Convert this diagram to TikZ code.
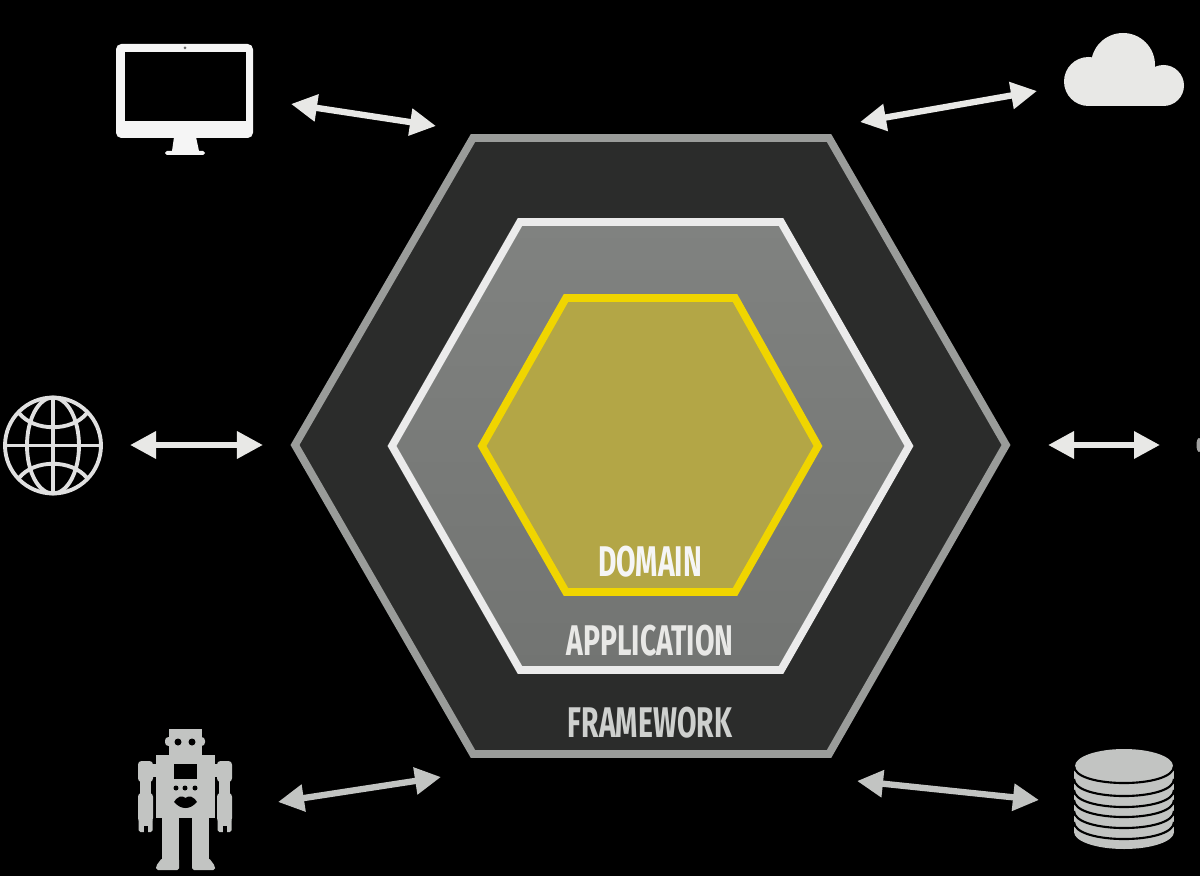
\documentclass[tikz,border=0pt]{standalone}
\usepackage{fontspec}
\setmainfont[FakeStretch=0.66]{Fira Sans}
\usetikzlibrary{arrows.meta}
\definecolor{hexdark}{HTML}{2B2C2B}
\definecolor{hexedge}{HTML}{9A9C9A}
\definecolor{hexmidtop}{HTML}{808280}
\definecolor{hexmidlow}{HTML}{727472}
\definecolor{hexcore}{HTML}{B3A646}
\definecolor{coreedge}{HTML}{F0D500}
\definecolor{lightgrey}{HTML}{E8E8E6}
\definecolor{robotgrey}{HTML}{C2C4C2}
\tikzset{hex/.style = {line width = 2.2pt, miter limit = 10}}
\tikzset{dblarrow/.style = {line width = 1.8pt, {Triangle[length=0.26cm, width=0.26cm]}-{Triangle[length=0.26cm, width=0.26cm]}}}
\tikzset{label/.style = {font = \fontsize{12.2}{14}\selectfont\bfseries, inner sep = 0}}
\tikzset{globeline/.style = {white!88!black, line width = 1.1pt}}
\begin{document}
\begin{tikzpicture}[x=0.01cm, y=-0.01cm]
    \clip (0, 0) rectangle (1200, 876);
    \fill [black] (0, 0) rectangle (1200, 876);

    \draw [hex, draw=hexedge, fill=hexdark] (473, 138) -- (829, 138) -- (1006, 445) -- (829, 754) -- (473, 754) -- (295, 445) -- cycle;
    \draw [hex, draw=white!92!black, top color=hexmidtop, bottom color=hexmidlow] (520, 222) -- (781, 222) -- (909, 446) -- (781, 670) -- (520, 670) -- (392, 446) -- cycle;
    \draw [hex, draw=coreedge, fill=hexcore] (566, 298) -- (735, 298) -- (818, 446) -- (735, 592) -- (566, 592) -- (482, 446) -- cycle;

    \node [label, text=white!96!black] (domain) at (650, 562) {DOMAIN};
    \node [label, text=lightgrey] (application) at (650, 641) {APPLICATION};
    \node [label, text=robotgrey!80!white] (framework) at (650, 723) {FRAMEWORK};

    \coordinate (screenA) at (291, 104);
    \coordinate (screenB) at (436, 126);
    \coordinate (cloudA) at (860, 122);
    \coordinate (cloudB) at (1037, 91);
    \coordinate (globeA) at (130, 445);
    \coordinate (globeB) at (263, 445);
    \coordinate (sideA) at (1048, 445);
    \coordinate (sideB) at (1160, 445);
    \coordinate (robotA) at (278, 802);
    \coordinate (robotB) at (441, 777);
    \coordinate (stackA) at (857, 781);
    \coordinate (stackB) at (1039, 800);
    \draw [dblarrow, lightgrey] (screenA) -- (screenB);
    \draw [dblarrow, lightgrey] (cloudA) -- (cloudB);
    \draw [dblarrow, lightgrey] (globeA) -- (globeB);
    \draw [dblarrow, lightgrey] (sideA) -- (sideB);
    \draw [dblarrow, robotgrey] (robotA) -- (robotB);
    \draw [dblarrow, robotgrey] (stackA) -- (stackB);

    \fill [white!96!black, rounded corners=1.5pt] (116, 44) rectangle (253, 138);
    \fill [black] (125, 52) rectangle (246, 121);
    \fill [black!60] (185, 48) circle [radius=1.5];
    \fill [white!96!black] (174, 137) -- (196, 137) -- (199, 151) -- (172, 151) -- cycle;
    \fill [white!96!black, rounded corners=0.5pt] (165, 151) rectangle (205, 155);

    \fill [lightgrey] (1123, 65) circle [radius=32];
    \fill [lightgrey] (1088.5, 81.5) circle [radius=24.5];
    \fill [lightgrey] (1163.5, 85.5) circle [radius=20.5];
    \fill [lightgrey] (1088, 80) rectangle (1164, 106);

    \draw [globeline] (53, 445.5) circle [radius=48];
    \draw [globeline] (53, 445.5) ellipse [x radius=26, y radius=48];
    \draw [globeline] (53, 397.5) -- (53, 493.5);
    \draw [globeline] (5, 445.5) -- (101, 445.5);
    \draw [globeline] (19, 413) .. controls (34, 432) and (72, 432) .. (87, 413);
    \draw [globeline] (19, 478) .. controls (34, 459) and (72, 459) .. (87, 478);

    \fill [lightgrey!70!black] (1199, 445) ellipse [x radius=2.5, y radius=7];

    \fill [robotgrey] (169, 729) rectangle (202, 755);
    \fill [robotgrey, rounded corners=1pt] (165, 737) rectangle (205, 746);
    \fill [robotgrey] (156, 755) rectangle (215, 818);
    \fill [robotgrey] (162, 818) rectangle (179, 860);
    \fill [robotgrey] (192, 818) rectangle (209, 860);
    \fill [robotgrey, rounded corners=0.5pt] (156, 870) -- (156, 866) -- (162, 858) -- (179, 858) -- (179, 870) -- cycle;
    \fill [robotgrey, rounded corners=0.5pt] (215, 870) -- (215, 866) -- (209, 858) -- (192, 858) -- (192, 870) -- cycle;
    \fill [robotgrey] (152, 764) rectangle (157, 777);
    \fill [robotgrey] (214, 764) rectangle (219, 777);
    \foreach \armx in {138, 217} {
        \fill [robotgrey, rounded corners=1pt] (\armx, 761) rectangle (\armx + 15, 782);
        \fill [robotgrey] (\armx + 2, 780) rectangle (\armx + 13, 795);
        \fill [robotgrey, rounded corners=1pt] (\armx, 793) rectangle (\armx + 15, 822);
        \fill [robotgrey, rounded corners=0.5pt] (\armx + 0.5, 818) rectangle (\armx + 14.5, 832);
        \fill [black] (\armx + 5.5, 826) rectangle (\armx + 9.5, 833);
    }
    \foreach \eyex in {178, 192} {
        \fill [black] (\eyex, 742) circle [radius=3.5];
    }
    \fill [black] (174, 764) rectangle (197, 779);
    \foreach \dotx in {176, 185, 195} {
        \fill [black] (\dotx, 788) circle [radius=2.5];
    }
    \fill [black] (174, 802) .. controls (178, 796) and (182, 795) .. (185.5, 798) .. controls (189, 795) and (193, 796) .. (197, 802) .. controls (193, 806) and (190, 808) .. (185.5, 808) .. controls (181, 808) and (178, 806) .. (174, 802) -- cycle;

    \fill [robotgrey] (1124, 832) ellipse [x radius=50, y radius=17];
    \fill [robotgrey] (1074, 768) rectangle (1174, 832);
    \fill [robotgrey] (1124, 766) ellipse [x radius=49, y radius=17];
    \foreach \disky/\diskc in {766/788.7, 779/801.7, 790/812.7, 800/822.7, 811/833.7, 822/844.7} {
        \draw [black, line width=0.6pt] (1074, \disky) .. controls (1074, \diskc) and (1174, \diskc) .. (1174, \disky);
    }
\end{tikzpicture}
\end{document}
